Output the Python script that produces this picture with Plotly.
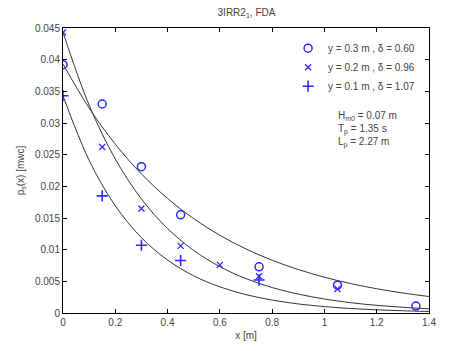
import plotly.graph_objects as go

# measured points
x_pts = [0, 0.15, 0.30, 0.45, 0.75, 1.05, 1.35]
y03 = [0.0392, 0.0330, 0.0231, 0.0155, 0.0073, 0.0044, 0.0011]
x02_pts = [0, 0.15, 0.30, 0.45, 0.60, 0.75, 1.05]
y02 = [0.0443, 0.0262, 0.0165, 0.0106, 0.0076, 0.0058, 0.0038]
x01_pts = [0, 0.15, 0.30, 0.45, 0.75]
y01 = [0.0343, 0.0185, 0.0107, 0.0083, 0.0052]

# fitted curves
x_fit = [0, 0.1, 0.2, 0.3, 0.4, 0.5, 0.6, 0.7, 0.8, 0.9, 1.0, 1.1, 1.2, 1.3, 1.4]
fit03 = [0.0393, 0.03237, 0.02666, 0.02196, 0.01809, 0.01490, 0.01227, 0.01011,
         0.00833, 0.00686, 0.00565, 0.00465, 0.00383, 0.00316, 0.00260]
fit02 = [0.0443, 0.03282, 0.02431, 0.01801, 0.01334, 0.00988, 0.00732, 0.00542,
         0.00402, 0.00298, 0.00221, 0.00163, 0.00121, 0.00090, 0.00066]
fit01 = [0.0343, 0.02410, 0.01693, 0.01190, 0.00836, 0.00587, 0.00413, 0.00290,
         0.00204, 0.00143, 0.00101, 0.00071, 0.00050, 0.00035, 0.00024]

x_ticks = [0, 0.2, 0.4, 0.6, 0.8, 1.0, 1.2, 1.4]
x_ticktext = ["0", "0.2", "0.4", "0.6", "0.8", "1", "1.2", "1.4"]
y_ticks = [0, 0.005, 0.01, 0.015, 0.02, 0.025, 0.03, 0.035, 0.04, 0.045]
y_ticktext = ["0", "0.005", "0.01", "0.015", "0.02", "0.025", "0.03", "0.035", "0.04", "0.045"]

blue = "#2b2bff"
line_col = "#333333"
txt = "#444444"
FONT = "Liberation Sans, Arial, sans-serif"

fig = go.Figure()
for f in (fit03, fit02, fit01):
    fig.add_trace(go.Scatter(x=x_fit, y=f, mode="lines", line=dict(color=line_col, width=1, shape="spline"),
                             showlegend=False, hoverinfo="skip"))

fig.add_trace(go.Scatter(x=x_pts, y=y03, mode="markers", name="y = 0.3 m , δ = 0.60",
                         marker=dict(symbol="circle-open", size=8, color=blue, line=dict(width=1.5, color=blue))))
fig.add_trace(go.Scatter(x=x02_pts, y=y02, mode="markers", name="y = 0.2 m , δ = 0.96",
                         marker=dict(symbol="x-thin-open", size=6, color=blue, line=dict(width=1.3, color=blue))))
fig.add_trace(go.Scatter(x=x01_pts, y=y01, mode="markers", name="y = 0.1 m , δ = 1.07",
                         marker=dict(symbol="cross-thin-open", size=8, color=blue, line=dict(width=1.6, color=blue))))

axis_common = dict(showline=True, linecolor="black", linewidth=1, mirror="allticks", ticks="inside",
                   ticklen=4, tickcolor="black", showgrid=False, zeroline=False,
                   tickfont=dict(size=10, color=txt, family=FONT))

fig.update_xaxes(range=[0, 1.4], tickvals=x_ticks, ticktext=x_ticktext,
                 title=dict(text="x [m]", font=dict(size=10, color=txt, family=FONT), standoff=4),
                 **axis_common)
fig.update_yaxes(range=[0, 0.045], tickvals=y_ticks, ticktext=y_ticktext,
                 title=dict(text="p<sub>s</sub>(x) [mwc]", font=dict(size=10, color=txt, family=FONT), standoff=8),
                 **axis_common)

fig.update_layout(
    width=474, height=351,
    margin=dict(l=63, r=45, t=28, b=38),
    paper_bgcolor="white", plot_bgcolor="white",
    font=dict(family=FONT, size=10, color=txt),
    title=dict(text="3IRR2<sub>1</sub>, FDA", x=0.52, xanchor="center", y=0.965, yanchor="middle",
               font=dict(size=10, color=txt, family=FONT)),
    legend=dict(x=0.615, y=0.98, xanchor="left", yanchor="top", bgcolor="rgba(0,0,0,0)",
                font=dict(size=10, color=txt, family=FONT), tracegroupgap=0, itemwidth=30),
    annotations=[
        dict(x=0.745, y=0.72, xref="paper", yref="paper", xanchor="left", yanchor="top", showarrow=False,
             align="left",
             text="H<sub>m0</sub> = 0.07 m<br>T<sub>p</sub> = 1.35 s<br>L<sub>p</sub> = 2.27 m",
             font=dict(size=10, color=txt, family=FONT)),
    ],
)

fig.write_html("out.html")
